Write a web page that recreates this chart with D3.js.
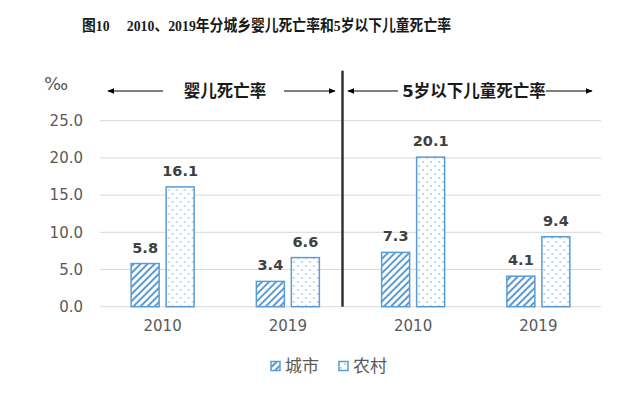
<!DOCTYPE html>
<html>
<head>
<meta charset="utf-8">
<script src="https://cdn.jsdelivr.net/npm/d3@7"></script>
<style>
  body { margin: 0; background: #fff; }
  svg { display: block; }
</style>
</head>
<body>
<div id="chart-area"></div>
<script>
// chart data
const categories = ["2010", "2019", "2010", "2019"]
const series = ["城市", "农村"]
const urban = [5.8, 3.4, 7.3, 4.1]
const rural = [16.1, 6.6, 20.1, 9.4]
const groupLabels = ["婴儿死亡率", "5岁以下儿童死亡率"]
const yTicks = [0, 5, 10, 15, 20, 25]
const titleText = "图10\u3000 2010、2019年分城乡婴儿死亡率和5岁以下儿童死亡率"

const W = 643, H = 399
const BLUE = "#5B9BD5"
const TEXT = "#595959"

const svg = d3.select("#chart-area").append("svg")
  .attr("width", W)
  .attr("height", H)

// patterns
const defs = svg.append("defs")
const hatch = defs.append("pattern")
  .attr("id", "hatch")
  .attr("patternUnits", "userSpaceOnUse")
  .attr("width", 5)
  .attr("height", 5)
  .attr("patternTransform", "rotate(45)")
hatch.append("rect").attr("width", 5).attr("height", 5).attr("fill", "#fff")
hatch.append("line")
  .attr("x1", 1).attr("y1", 0).attr("x2", 1).attr("y2", 5)
  .attr("stroke", BLUE).attr("stroke-width", 2)

const dots = defs.append("pattern")
  .attr("id", "dots")
  .attr("patternUnits", "userSpaceOnUse")
  .attr("width", 8)
  .attr("height", 8)
dots.append("rect").attr("width", 8).attr("height", 8).attr("fill", "#fff")
dots.append("circle").attr("cx", 2).attr("cy", 2).attr("r", 0.75).attr("fill", BLUE)
dots.append("circle").attr("cx", 6).attr("cy", 6).attr("r", 0.75).attr("fill", BLUE)

const fills = { "城市": "url(#hatch)", "农村": "url(#dots)" }

// arrowheads
defs.append("marker")
  .attr("id", "arrow")
  .attr("viewBox", "0 0 10 10")
  .attr("refX", 9).attr("refY", 5)
  .attr("markerWidth", 7).attr("markerHeight", 7)
  .attr("markerUnits", "userSpaceOnUse")
  .attr("orient", "auto-start-reverse")
  .append("path")
  .attr("d", "M0,1 L10,5 L0,9 Z")
  .attr("fill", "#000")

// title
svg.append("text")
  .attr("x", 82)
  .attr("y", 31)
  .attr("textLength", 369)
  .attr("lengthAdjust", "spacingAndGlyphs")
  .attr("font-family", "'Liberation Serif', 'Noto Sans CJK SC', serif")
  .attr("font-weight", "bold")
  .attr("font-size", "15.5px")
  .attr("fill", "#1a1a1a")
  .text(titleText)

// scales
const x0 = d3.scaleBand().domain(d3.range(categories.length)).range([100, 601])
const x1 = d3.scaleBand().domain(series).range([-31.5, 31.5]).paddingInner(0.2)
const y = d3.scaleLinear().domain([0, 25]).range([306.7, 120.7])

// gridlines
svg.append("g").selectAll("line")
  .data(yTicks)
  .join("line")
  .attr("x1", 100).attr("x2", 601)
  .attr("y1", d => y(d)).attr("y2", d => y(d))
  .attr("stroke", "#d9d9d9")
  .attr("stroke-width", 1)

// y axis labels
const yAxis = svg.append("g")
  .attr("transform", "translate(100,0)")
  .call(d3.axisLeft(y).tickValues(yTicks).tickFormat(d3.format(".1f")).tickSize(0).tickPadding(17))
yAxis.select(".domain").remove()
yAxis.selectAll("text")
  .attr("font-family", "'DejaVu Sans', sans-serif")
  .attr("font-size", "15px")
  .attr("fill", TEXT)

svg.append("text")
  .attr("x", 44).attr("y", 90)
  .attr("font-family", "'DejaVu Sans', sans-serif")
  .attr("font-size", "18px")
  .attr("fill", TEXT)
  .text("‰")

// x axis labels
const xAxis = svg.append("g")
  .attr("transform", `translate(0, ${y(0)})`)
  .call(d3.axisBottom(x0).tickFormat(i => categories[i]).tickSize(0).tickPadding(14))
xAxis.select(".domain").remove()
xAxis.selectAll("text")
  .attr("font-family", "'DejaVu Sans', sans-serif")
  .attr("font-size", "15px")
  .attr("fill", TEXT)

// bars
const rows = categories.map((c, i) => ({ i, values: [urban[i], rural[i]] }))
const groups = svg.append("g").selectAll("g")
  .data(rows)
  .join("g")
  .attr("transform", d => `translate(${x0(d.i) + x0.bandwidth() / 2}, 0)`)

groups.selectAll("rect")
  .data(d => series.map((s, k) => ({ s, v: d.values[k] })))
  .join("rect")
  .attr("x", d => x1(d.s))
  .attr("y", d => y(d.v))
  .attr("width", x1.bandwidth())
  .attr("height", d => y(0) - y(d.v))
  .attr("fill", d => fills[d.s])
  .attr("stroke", BLUE)
  .attr("stroke-width", 1.5)

groups.selectAll("text")
  .data(d => series.map((s, k) => ({ s, v: d.values[k] })))
  .join("text")
  .attr("x", d => x1(d.s) + x1.bandwidth() / 2)
  .attr("y", d => y(d.v) - 11)
  .attr("text-anchor", "middle")
  .attr("font-family", "'DejaVu Sans', sans-serif")
  .attr("font-weight", "bold")
  .attr("font-size", "14.5px")
  .attr("fill", "#404040")
  .text(d => d3.format(".1f")(d.v))

// divider between the two indicators
const divX = x0(2) - 8
svg.append("line")
  .attr("x1", divX).attr("x2", divX)
  .attr("y1", 70.7).attr("y2", y(0))
  .attr("stroke", "#333")
  .attr("stroke-width", 2.5)

// section headers with arrows
const arrowY = 91
const sections = [
  { label: groupLabels[0], cx: 225, left: [163, 108], right: [284, 335] },
  { label: groupLabels[1], cx: 474, left: [398, 348], right: [546, 592] }
]
sections.forEach(s => {
  svg.append("text")
    .attr("x", s.cx)
    .attr("y", arrowY + 6)
    .attr("text-anchor", "middle")
    .attr("font-family", "'DejaVu Sans', 'Noto Sans CJK SC', sans-serif")
    .attr("font-weight", "bold")
    .attr("font-size", "16.5px")
    .attr("fill", "#1a1a1a")
    .text(s.label)
  ;[s.left, s.right].forEach(a => {
    svg.append("line")
      .attr("x1", a[0]).attr("x2", a[1])
      .attr("y1", arrowY).attr("y2", arrowY)
      .attr("stroke", "#000")
      .attr("stroke-width", 1)
      .attr("marker-end", "url(#arrow)")
  })
})

// legend
const legend = svg.append("g").attr("transform", "translate(271, 366)")
const legendX = [0, 68]
series.forEach((s, k) => {
  const item = legend.append("g").attr("transform", `translate(${legendX[k]}, 0)`)
  item.append("rect")
    .attr("x", 0).attr("y", -4.5)
    .attr("width", 9).attr("height", 9)
    .attr("fill", fills[s])
    .attr("stroke", BLUE)
    .attr("stroke-width", 1.5)
  item.append("text")
    .attr("x", 14).attr("y", 6)
    .attr("font-family", "'Noto Sans CJK SC', sans-serif")
    .attr("font-size", "17px")
    .attr("fill", TEXT)
    .text(s)
})
</script>
</body>
</html>
